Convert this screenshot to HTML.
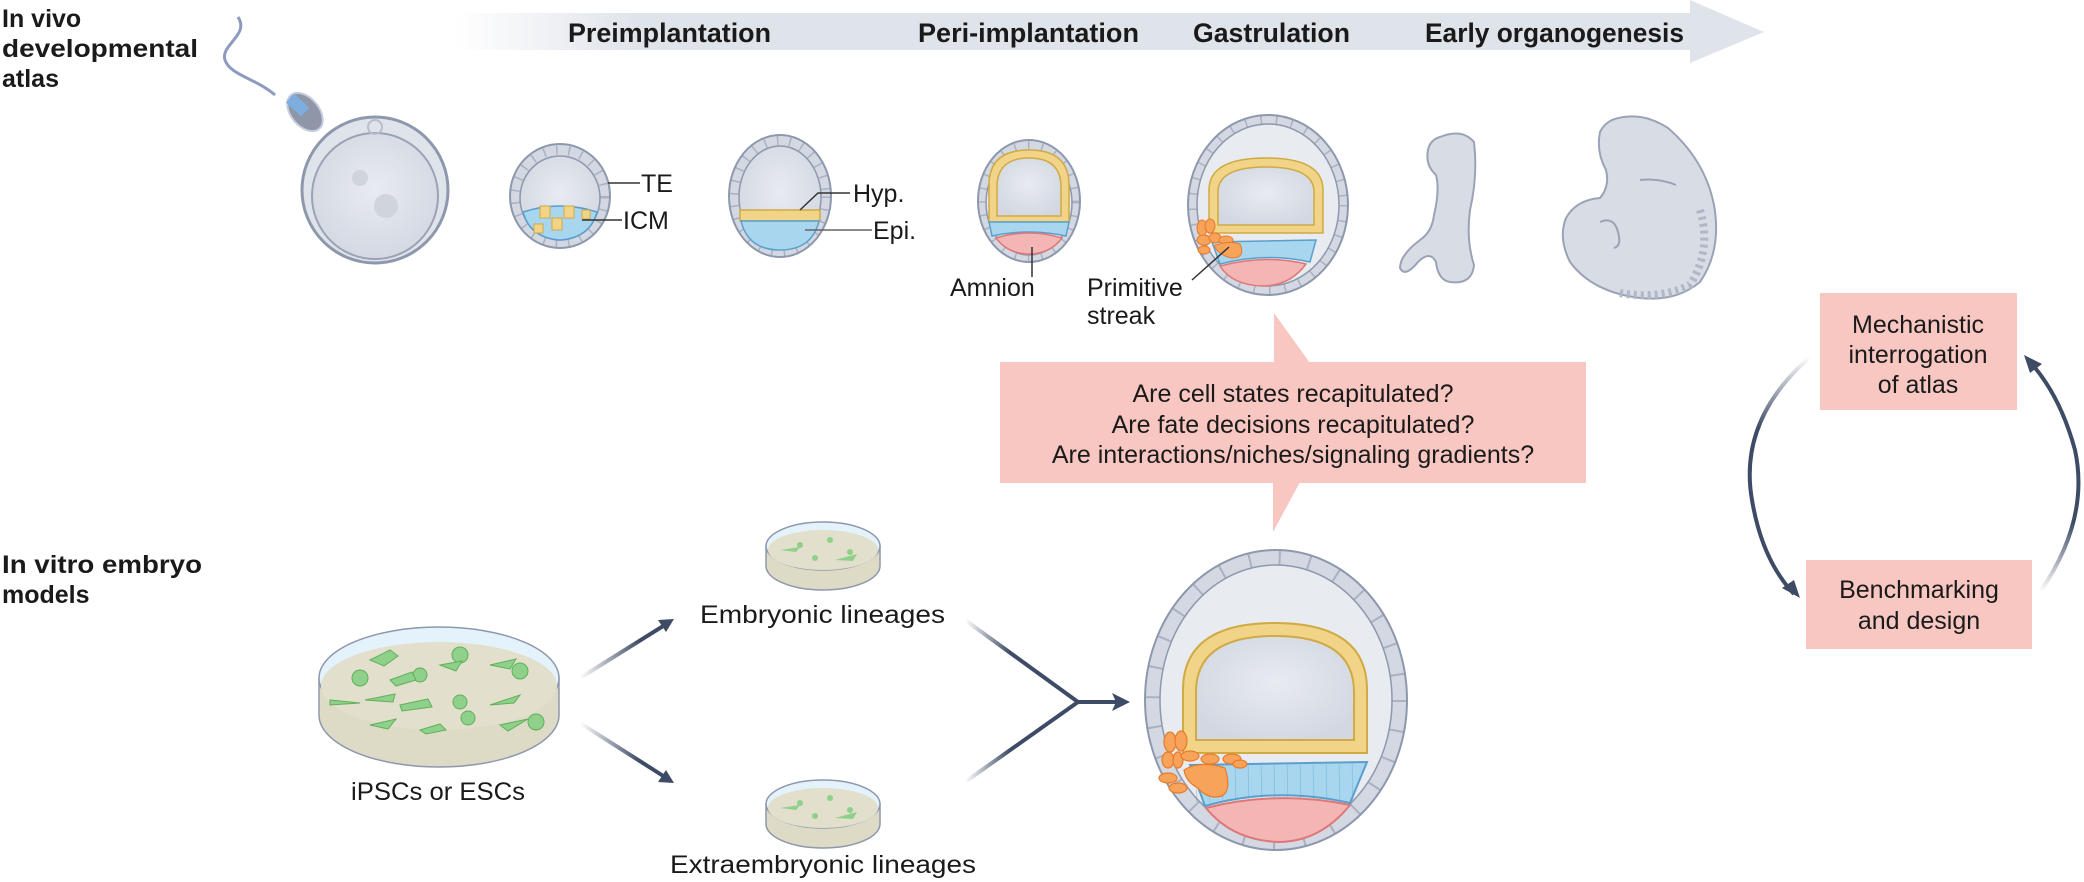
<!DOCTYPE html>
<html><head><meta charset="utf-8"><style>
html,body{margin:0;padding:0;background:#fff;}
svg{display:block;font-family:"Liberation Sans",sans-serif;}
</style></head><body>
<svg width="2084" height="882" viewBox="0 0 2084 882" xmlns="http://www.w3.org/2000/svg">
<defs>
<linearGradient id="band" x1="0" x2="1" y1="0" y2="0">
<stop offset="0" stop-color="#dfe3ea" stop-opacity="0"/>
<stop offset="0.15" stop-color="#dfe3ea"/>
<stop offset="1" stop-color="#dfe3ea"/>
</linearGradient>
<radialGradient id="cav" cx="0.5" cy="0.45" r="0.6">
<stop offset="0" stop-color="#e8ebf1"/><stop offset="1" stop-color="#d2d7e1"/>
</radialGradient>
<linearGradient id="fadeV1" x1="0" y1="0" x2="0" y2="1">
<stop offset="0" stop-color="#3d4b66" stop-opacity="0"/><stop offset="0.3" stop-color="#3d4b66"/>
</linearGradient>
<linearGradient id="fadeV2" x1="0" y1="1" x2="0" y2="0">
<stop offset="0" stop-color="#3d4b66" stop-opacity="0"/><stop offset="0.3" stop-color="#3d4b66"/>
</linearGradient>
<linearGradient id="fadeA" gradientUnits="userSpaceOnUse" x1="580" y1="0" x2="640" y2="0">
<stop offset="0" stop-color="#3d4b66" stop-opacity="0"/><stop offset="1" stop-color="#3d4b66"/>
</linearGradient>
<linearGradient id="fadeB" gradientUnits="userSpaceOnUse" x1="965" y1="0" x2="1010" y2="0">
<stop offset="0" stop-color="#3d4b66" stop-opacity="0"/><stop offset="1" stop-color="#3d4b66"/>
</linearGradient>
</defs>

<!-- Titles -->
<g font-weight="bold" fill="#1a1a1a" font-size="25">
<text x="2" y="27">In vivo</text>
<text x="2" y="57" textLength="196" lengthAdjust="spacingAndGlyphs">developmental</text>
<text x="2" y="87">atlas</text>
<text x="2" y="573" textLength="200" lengthAdjust="spacingAndGlyphs">In vitro embryo</text>
<text x="2" y="603">models</text>
</g>

<!-- top arrow -->
<rect x="455" y="13" width="1237" height="37" fill="url(#band)"/>
<polygon points="1690,0 1764,32 1690,63" fill="#dfe3ea"/>
<g font-weight="bold" fill="#1a1a1a" font-size="27">
<text x="568" y="42" textLength="203" lengthAdjust="spacingAndGlyphs">Preimplantation</text>
<text x="918" y="42" textLength="221" lengthAdjust="spacingAndGlyphs">Peri-implantation</text>
<text x="1193" y="42" textLength="157" lengthAdjust="spacingAndGlyphs">Gastrulation</text>
<text x="1425" y="42" textLength="259" lengthAdjust="spacingAndGlyphs">Early organogenesis</text>
</g>

<!-- sperm -->
<path d="M238,17 C250,35 220,45 225,60 C230,75 255,78 275,95" fill="none" stroke="#8d9bc0" stroke-width="3"/>
<ellipse cx="305" cy="112" rx="14" ry="22" transform="rotate(-40 305 112)" fill="#8e96a8" stroke="#c6cde0" stroke-width="2"/>
<path d="M290,98 L305,112" stroke="#7eaee0" stroke-width="12"/>
<!-- oocyte -->
<circle cx="375" cy="190" r="73" fill="#dfe3ea" stroke="#8e98ad" stroke-width="3"/>
<circle cx="375" cy="196" r="63" fill="url(#cav)" stroke="#9aa3b6" stroke-width="2"/>
<circle cx="375" cy="127" r="7" fill="none" stroke="#b7bfcd" stroke-width="2"/>
<circle cx="360" cy="178" r="8" fill="#cfd4dd"/><circle cx="386" cy="206" r="12" fill="#cfd4dd"/>

<!-- blastocyst 1 -->
<ellipse cx="560" cy="196" rx="50" ry="52" fill="#d3d8e2" stroke="#8e98ad" stroke-width="2"/>
<ellipse cx="560" cy="197" rx="45" ry="47" fill="none" stroke="#8e98ad" stroke-width="9" stroke-dasharray="1.5 11" opacity=".6"/>
<ellipse cx="560" cy="198" rx="40" ry="42" fill="url(#cav)" stroke="#8e98ad" stroke-width="1.5"/>
<path d="M523,212 Q560,200 597,212 Q590,238 560,240 Q530,238 523,212Z" fill="#a9d6ef" stroke="#5a9fcc" stroke-width="1.5"/>
<rect x="540" y="206" width="10" height="12" fill="#f1d487" stroke="#cfaa45"/>
<rect x="564" y="206" width="10" height="12" fill="#f1d487" stroke="#cfaa45"/>
<rect x="552" y="218" width="10" height="12" fill="#f1d487" stroke="#cfaa45"/>
<rect x="534" y="224" width="9" height="9" fill="#f1d487" stroke="#cfaa45"/>
<rect x="582" y="210" width="8" height="9" fill="#f1d487" stroke="#cfaa45"/>
<g stroke="#333" stroke-width="1.5"><line x1="608" y1="183" x2="640" y2="183"/><line x1="582" y1="220" x2="622" y2="220"/></g>
<g font-size="25" fill="#1a1a1a"><text x="641" y="192">TE</text><text x="623" y="229">ICM</text></g>

<!-- blastocyst 2 -->
<ellipse cx="780" cy="196" rx="51" ry="61" fill="#d3d8e2" stroke="#8e98ad" stroke-width="2"/>
<ellipse cx="780" cy="196.5" rx="46" ry="56" fill="none" stroke="#8e98ad" stroke-width="9" stroke-dasharray="1.5 11" opacity=".6"/>
<ellipse cx="780" cy="197" rx="41" ry="51" fill="url(#cav)" stroke="#8e98ad" stroke-width="1.5"/>
<path d="M740,210 L820,210 L820,221 L740,221Z" fill="#f1d487" stroke="#cfaa45" stroke-width="1.5"/>
<path d="M741,221 L819,221 Q812,250 780,250 Q748,250 741,221Z" fill="#a9d6ef" stroke="#5a9fcc" stroke-width="1.5"/>
<g stroke="#333" stroke-width="1.5" fill="none"><polyline points="800,210 818,193 850,193"/><line x1="805" y1="230" x2="872" y2="230" stroke="#666"/></g>
<g font-size="25" fill="#1a1a1a"><text x="853" y="202">Hyp.</text><text x="873" y="239">Epi.</text></g>

<!-- peri-implantation -->
<ellipse cx="1029" cy="201" rx="51" ry="61" fill="#d3d8e2" stroke="#8e98ad" stroke-width="2"/>
<ellipse cx="1029" cy="202" rx="47" ry="56.5" fill="none" stroke="#8e98ad" stroke-width="8" stroke-dasharray="1.5 12" opacity=".6"/>
<ellipse cx="1029" cy="203" rx="43" ry="52" fill="#e6e9ef" stroke="#8e98ad" stroke-width="1.5"/>
<path d="M989,222 L989,185 Q989,150 1029,150 Q1069,150 1069,185 L1069,222Z" fill="#f1d487" stroke="#cfaa45" stroke-width="1.5"/>
<path d="M997,216 L997,187 Q997,158 1029,158 Q1061,158 1061,187 L1061,216Z" fill="url(#cav)" stroke="#cfaa45" stroke-width="1.5"/>
<path d="M989,222 L1069,222 L1066,236 Q1029,228 992,236Z" fill="#a9d6ef" stroke="#5a9fcc" stroke-width="1.5"/>
<path d="M996,238 Q1029,228 1062,238 Q1050,254 1029,254 Q1008,254 996,238Z" fill="#f4b5b5" stroke="#de7878" stroke-width="1.5"/>
<line x1="1032" y1="247" x2="1032" y2="277" stroke="#333" stroke-width="1.5"/>
<text x="950" y="296" font-size="25" fill="#1a1a1a">Amnion</text>

<!-- gastrulation -->
<ellipse cx="1268" cy="205" rx="80" ry="90" fill="#d3d8e2" stroke="#8e98ad" stroke-width="2"/>
<ellipse cx="1268" cy="205" rx="75.5" ry="85.5" fill="none" stroke="#8e98ad" stroke-width="9" stroke-dasharray="1.5 14" opacity=".6"/>
<ellipse cx="1268" cy="205" rx="71" ry="81" fill="#e8ebf0" stroke="#8e98ad" stroke-width="1.5"/>
<path d="M1209,233 L1209,190 Q1209,158 1266,158 Q1323,158 1323,190 L1323,233Z" fill="#f1d487" stroke="#cfaa45" stroke-width="1.5"/>
<path d="M1218,225 L1218,192 Q1218,167 1266,167 Q1314,167 1314,192 L1314,225Z" fill="url(#cav)" stroke="#cfaa45" stroke-width="1.5"/>
<path d="M1212,242 L1316,240 L1310,262 Q1266,252 1220,264Z" fill="#a9d6ef" stroke="#5a9fcc" stroke-width="1.5"/>
<path d="M1220,266 Q1266,254 1306,264 Q1290,286 1262,286 Q1232,285 1220,266Z" fill="#f4b5b5" stroke="#de7878" stroke-width="1.5"/>
<g fill="#f7a35a" stroke="#e97a2a" stroke-width="1">
<ellipse cx="1202" cy="228" rx="5" ry="8"/><ellipse cx="1210" cy="226" rx="5" ry="7"/><ellipse cx="1204" cy="240" rx="7" ry="5"/>
<ellipse cx="1215" cy="238" rx="6" ry="5"/><ellipse cx="1226" cy="240" rx="7" ry="4"/><ellipse cx="1204" cy="250" rx="6" ry="4"/>
<path d="M1214,246 Q1228,240 1240,244 Q1246,258 1232,258 Q1220,256 1214,246Z"/>
</g>
<line x1="1229" y1="247" x2="1192" y2="280" stroke="#333" stroke-width="1.5"/>
<g font-size="25" fill="#1a1a1a"><text x="1087" y="296">Primitive</text><text x="1087" y="324">streak</text></g>

<!-- worm -->
<path d="M1440,137 Q1462,128 1474,142 Q1478,175 1470,210 Q1466,240 1474,265 Q1472,285 1450,282 Q1438,280 1436,262 Q1430,250 1418,262 Q1405,278 1400,268 Q1400,255 1420,240 Q1432,232 1434,215 Q1440,190 1436,175 Q1425,165 1428,150 Q1430,140 1440,137Z" fill="#d8dce5" stroke="#9aa3b6" stroke-width="2"/>
<!-- curled embryo -->
<path d="M1612,120 Q1640,110 1668,128 Q1705,160 1714,205 Q1722,250 1700,282 Q1676,302 1640,298 Q1592,292 1570,262 Q1558,238 1566,218 Q1576,200 1600,198 Q1610,186 1606,170 Q1596,152 1600,132 Q1604,124 1612,120Z" fill="#d8dce5" stroke="#9aa3b6" stroke-width="2"/>
<path d="M1600,222 Q1614,216 1618,232 Q1622,246 1614,248" fill="none" stroke="#9aa3b6" stroke-width="2"/>
<path d="M1640,180 Q1660,178 1676,185" fill="none" stroke="#9aa3b6" stroke-width="2"/>
<path d="M1700,210 Q1712,250 1690,285 Q1660,300 1620,293" fill="none" stroke="#b0b7c6" stroke-width="8" stroke-dasharray="3 4"/>

<!-- callout -->
<rect x="1000" y="362" width="586" height="121" fill="#f8c7c2"/>
<polygon points="1274,313 1274,363 1310,363" fill="#f8c7c2"/>
<polygon points="1273,482 1273,532 1300,482" fill="#f8c7c2"/>
<g font-size="25" fill="#1a1a1a" text-anchor="middle">
<text x="1293" y="402">Are cell states recapitulated?</text>
<text x="1293" y="433">Are fate decisions recapitulated?</text>
<text x="1293" y="463">Are interactions/niches/signaling gradients?</text>
</g>

<!-- right cycle -->
<rect x="1820" y="293" width="197" height="117" fill="#f8c7c2"/>
<rect x="1806" y="560" width="226" height="89" fill="#f8c7c2"/>
<g font-size="25" fill="#1a1a1a" text-anchor="middle">
<text x="1918" y="333">Mechanistic</text><text x="1918" y="363">interrogation</text><text x="1918" y="393">of atlas</text>
<text x="1919" y="598">Benchmarking</text><text x="1919" y="629">and design</text>
</g>
<path d="M1810,357 Q1738,420 1752,500 Q1762,560 1794,594" fill="none" stroke="url(#fadeV1)" stroke-width="4"/>
<polygon points="1800,598 1782,588 1794,580" fill="#3d4b66"/>
<path d="M2040,592 Q2090,520 2075,450 Q2060,395 2030,362" fill="none" stroke="url(#fadeV2)" stroke-width="4"/>
<polygon points="2024,355 2042,364 2030,373" fill="#3d4b66"/>

<!-- big dish -->
<path d="M319,678 L319,715 A120,52 0 0 0 559,715 L559,678Z" fill="#dddac6" stroke="#8e98ad" stroke-width="1.5"/>
<ellipse cx="439" cy="678" rx="120" ry="51" fill="#e4f2fb" stroke="#8e98ad" stroke-width="1.5"/>
<ellipse cx="439" cy="686" rx="118" ry="44" fill="#e2dfcc"/>
<g fill="#8fd08a" stroke="#5fb05a" stroke-width="1">
<circle cx="360" cy="678" r="8"/><circle cx="420" cy="675" r="7"/><circle cx="460" cy="655" r="8"/><circle cx="520" cy="671" r="8"/><circle cx="536" cy="722" r="8"/><circle cx="460" cy="702" r="7"/><circle cx="468" cy="718" r="7"/>
<path d="M370,660 l20,-10 l8,6 l-14,10 z"/><path d="M390,680 l22,-8 l4,8 l-20,6z"/><path d="M440,665 l22,-4 l-6,10 z"/>
<path d="M330,700 l30,3 l-30,2z"/><path d="M365,700 l30,-6 l-2,8z"/><path d="M400,705 l28,-6 l4,8 l-30,4z"/>
<path d="M370,725 l26,-6 l-8,10z"/><path d="M420,730 l20,-6 l6,6 l-20,4z"/><path d="M490,705 l30,-10 l-6,8z"/><path d="M500,725 l28,-6 l-20,12z"/><path d="M490,665 l26,-6 l-6,10z"/>
</g>
<text x="351" y="800" font-size="25" fill="#1a1a1a" textLength="174" lengthAdjust="spacingAndGlyphs">iPSCs or ESCs</text>
<!-- arrows from big dish -->
<line x1="580" y1="678" x2="668" y2="623" stroke="url(#fadeA)" stroke-width="4"/>
<polygon points="674,619 658,620 666,632" fill="#3d4b66"/>
<line x1="580" y1="723" x2="668" y2="779" stroke="url(#fadeA)" stroke-width="4"/>
<polygon points="674,783 666,770 658,782" fill="#3d4b66"/>
<!-- small dishes -->
<g>
<path d="M766,546 L766,566 A57,24 0 0 0 880,566 L880,546Z" fill="#dddac6" stroke="#8e98ad" stroke-width="1.5"/>
<ellipse cx="823" cy="546" rx="57" ry="24" fill="#e4f2fb" stroke="#8e98ad" stroke-width="1.5"/>
<ellipse cx="823" cy="550" rx="55" ry="20" fill="#e2dfcc"/>
<g fill="#8fd08a"><circle cx="800" cy="545" r="3"/><circle cx="830" cy="540" r="3"/><circle cx="850" cy="552" r="3"/><circle cx="815" cy="558" r="3"/><path d="M780,550 l20,-3 l-4,5z"/><path d="M835,560 l22,-6 l-4,7z"/></g>
</g>
<g>
<path d="M766,804 L766,824 A57,24 0 0 0 880,824 L880,804Z" fill="#dddac6" stroke="#8e98ad" stroke-width="1.5"/>
<ellipse cx="823" cy="804" rx="57" ry="24" fill="#e4f2fb" stroke="#8e98ad" stroke-width="1.5"/>
<ellipse cx="823" cy="808" rx="55" ry="20" fill="#e2dfcc"/>
<g fill="#8fd08a"><circle cx="800" cy="803" r="3"/><circle cx="830" cy="798" r="3"/><circle cx="850" cy="810" r="3"/><circle cx="815" cy="816" r="3"/><path d="M780,808 l20,-3 l-4,5z"/><path d="M835,818 l22,-6 l-4,7z"/></g>
</g>
<text x="700" y="623" font-size="25" fill="#1a1a1a" textLength="245" lengthAdjust="spacingAndGlyphs">Embryonic lineages</text>
<text x="670" y="873" font-size="25" fill="#1a1a1a" textLength="306" lengthAdjust="spacingAndGlyphs">Extraembryonic lineages</text>
<!-- converging -->
<polyline points="965,620 1078,702 965,782" fill="none" stroke="url(#fadeB)" stroke-width="4"/>
<line x1="1078" y1="702" x2="1118" y2="702" stroke="#3d4b66" stroke-width="4"/>
<polygon points="1130,702 1112,693 1116,702 1112,711" fill="#3d4b66"/>

<!-- big embryo -->
<ellipse cx="1276" cy="700" rx="131" ry="150" fill="#d3d8e2" stroke="#8e98ad" stroke-width="2"/>
<ellipse cx="1276" cy="700" rx="123.5" ry="142.5" fill="none" stroke="#8e98ad" stroke-width="15" stroke-dasharray="2 28" opacity=".6"/>
<ellipse cx="1276" cy="700" rx="116" ry="135" fill="#e8ebf0" stroke="#8e98ad" stroke-width="1.5"/>
<path d="M1183,753 L1183,690 Q1183,623 1275,623 Q1367,623 1367,690 L1367,753Z" fill="#f1d487" stroke="#cfaa45" stroke-width="2"/>
<path d="M1196,740 L1196,692 Q1196,636 1275,636 Q1354,636 1354,692 L1354,740Z" fill="url(#cav)" stroke="#cfaa45" stroke-width="2"/>
<path d="M1183,753 L1367,753" stroke="#cfaa45" stroke-width="1"/>
<path d="M1190,765 L1367,762 L1350,803 Q1276,786 1205,806Z" fill="#a9d6ef" stroke="#5a9fcc" stroke-width="2"/>
<path d="M1196,784 L1360,782" fill="none" stroke="#5a9fcc" stroke-width="36" stroke-dasharray="1 12" opacity=".35"/>
<path d="M1206,808 Q1276,790 1350,805 Q1320,842 1278,842 Q1232,840 1206,808Z" fill="#f4b5b5" stroke="#de7878" stroke-width="2"/>
<g fill="#f7a35a" stroke="#e97a2a" stroke-width="1.2">
<ellipse cx="1170" cy="742" rx="6" ry="10"/><ellipse cx="1181" cy="741" rx="6" ry="10"/><ellipse cx="1168" cy="760" rx="6" ry="8"/><ellipse cx="1178" cy="760" rx="5" ry="8"/>
<ellipse cx="1190" cy="756" rx="9" ry="5"/><ellipse cx="1210" cy="759" rx="9" ry="5"/><ellipse cx="1232" cy="759" rx="9" ry="5"/><ellipse cx="1240" cy="764" rx="7" ry="4"/>
<ellipse cx="1168" cy="778" rx="9" ry="5"/><ellipse cx="1178" cy="788" rx="9" ry="5"/>
<path d="M1184,770 Q1200,760 1225,768 Q1232,790 1222,796 Q1208,800 1198,788 Q1186,782 1184,770Z"/>
</g>
</svg>
</body></html>
